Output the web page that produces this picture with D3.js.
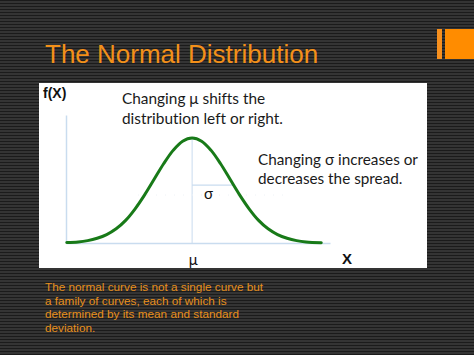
<!DOCTYPE html>
<html>
<head>
<meta charset="utf-8">
<script src="https://cdn.jsdelivr.net/npm/d3@7"></script>
<style>
  html, body { margin: 0; padding: 0; background: #2a2a2a; }
  svg { display: block; }
  text { font-variant-ligatures: none; }
</style>
</head>
<body>
<div id="slide"></div>
<script>
const WIDTH = 474;
const HEIGHT = 355;

// curve, x in sigma units, y as density
const zValues = [-3.3, -3.0, -2.75, -2.5, -2.25, -2.0, -1.75, -1.5, -1.25, -1.0, -0.75, -0.5, -0.25, 0,
  0.25, 0.5, 0.75, 1.0, 1.25, 1.5, 1.75, 2.0, 2.25, 2.5, 2.75, 3.0, 3.4];
const densities = [0.002, 0.004, 0.009, 0.018, 0.032, 0.054, 0.086, 0.130, 0.183, 0.242, 0.301, 0.352, 0.387, 0.399,
  0.387, 0.352, 0.301, 0.242, 0.183, 0.130, 0.086, 0.054, 0.032, 0.018, 0.009, 0.004, 0.001];
const sigmaMark = [0, 1.09];
const sigmaLevel = 0.22;

const titleText = "The Normal Distribution";
const noteLines = ["Changing \u03bc shifts the", "distribution left or right."];
const spreadLines = ["Changing \u03c3 increases or", "decreases the spread."];
const captionLines = [
  "The normal curve is not a single curve but",
  "a family of curves, each of which is",
  "determined by its mean and standard",
  "deviation."
];

const svg = d3
  .select("#slide")
  .append("svg")
  .attr("width", WIDTH)
  .attr("height", HEIGHT);

// striped dark background
const defs = svg.append("defs");
const stripes = defs
  .append("pattern")
  .attr("id", "stripes")
  .attr("width", 4)
  .attr("height", 3)
  .attr("patternUnits", "userSpaceOnUse");
stripes.append("rect").attr("width", 4).attr("height", 3).attr("fill", "#343434");
stripes.append("rect").attr("width", 4).attr("height", 1).attr("fill", "#1b1b1b");
svg.append("rect").attr("width", WIDTH).attr("height", HEIGHT).attr("fill", "url(#stripes)");

// orange corner marks
svg.append("rect").attr("x", 437).attr("y", 29).attr("width", 5).attr("height", 30).attr("fill", "#f7901e");
svg.append("rect").attr("x", 445).attr("y", 29).attr("width", 29).attr("height", 30).attr("fill", "#ff8c00");

svg
  .append("text")
  .attr("x", 45)
  .attr("y", 63)
  .attr("font-family", "Liberation Sans, Arial, sans-serif")
  .attr("font-size", "26px")
  .attr("fill", "#f39019")
  .text(titleText);

// white picture panel
svg.append("rect").attr("x", 39).attr("y", 83).attr("width", 388).attr("height", 185).attr("fill", "#ffffff");

const x = d3.scaleLinear().domain([-3.32, 3.63]).range([66, 330]);
const y = d3.scaleLinear().domain([0, 0.399]).range([243, 138]);

const axisColor = "#c9dcef";

const xAxis = svg
  .append("g")
  .attr("transform", `translate(0, ${y(0)})`)
  .call(d3.axisBottom(x).tickValues([]).tickSizeOuter(0));
xAxis.select(".domain").attr("stroke", axisColor).attr("stroke-width", 1.5);

const yAxis = svg
  .append("g")
  .attr("transform", `translate(${x(-3.32)}, 0)`)
  .call(d3.axisLeft(d3.scaleLinear().domain([0, 0.49]).range([243, 115])).tickValues([]).tickSizeOuter(0));
yAxis.select(".domain").attr("stroke", axisColor).attr("stroke-width", 1.5);

// mean line and sigma marker
svg
  .append("line")
  .attr("x1", x(0))
  .attr("x2", x(0))
  .attr("y1", y(0.399))
  .attr("y2", y(0))
  .attr("stroke", axisColor)
  .attr("stroke-width", 1);

svg
  .append("line")
  .attr("x1", x(sigmaMark[0]))
  .attr("x2", x(sigmaMark[1]))
  .attr("y1", y(sigmaLevel))
  .attr("y2", y(sigmaLevel))
  .attr("stroke", axisColor)
  .attr("stroke-width", 1.2);

svg
  .append("line")
  .attr("x1", 138)
  .attr("x2", 285)
  .attr("y1", 195)
  .attr("y2", 195)
  .attr("stroke", "#eef2f6")
  .attr("stroke-dasharray", "1 8");

const line = d3
  .line()
  .x((d, i) => x(zValues[i]))
  .y((d) => y(d))
  .curve(d3.curveCatmullRom);

svg
  .append("path")
  .attr("d", line(densities))
  .attr("fill", "none")
  .attr("stroke", "#187a18")
  .attr("stroke-width", 3)
  .attr("stroke-linecap", "round");

// labels in the panel
const panelFont = "Lato, 'Open Sans', sans-serif";

svg
  .append("text")
  .attr("x", 43)
  .attr("y", 98)
  .attr("font-family", "Liberation Sans, Arial, sans-serif")
  .attr("font-weight", "bold")
  .attr("font-size", "14px")
  .attr("fill", "#111")
  .text("f(X)");

svg
  .append("text")
  .attr("x", 342)
  .attr("y", 264)
  .attr("font-family", "Liberation Sans, Arial, sans-serif")
  .attr("font-weight", "bold")
  .attr("font-size", "15px")
  .attr("fill", "#111")
  .text("X");

svg
  .append("text")
  .attr("x", x(0) + 1)
  .attr("y", 265)
  .attr("text-anchor", "middle")
  .attr("font-family", panelFont)
  .attr("font-size", "15px")
  .attr("fill", "#111")
  .text("\u03bc");

svg
  .append("text")
  .attr("x", 204)
  .attr("y", 199)
  .attr("font-family", panelFont)
  .attr("font-size", "15px")
  .attr("fill", "#111")
  .text("\u03c3");

noteLines.forEach((t, i) => {
  svg
    .append("text")
    .attr("x", 122)
    .attr("y", 104 + i * 20)
    .attr("font-family", panelFont)
    .attr("font-size", "15.4px")
    .attr("fill", "#1a1a1a")
    .text(t);
});

spreadLines.forEach((t, i) => {
  svg
    .append("text")
    .attr("x", 258)
    .attr("y", 165 + i * 19)
    .attr("font-family", panelFont)
    .attr("font-size", "15.3px")
    .attr("fill", "#1a1a1a")
    .text(t);
});

captionLines.forEach((t, i) => {
  svg
    .append("text")
    .attr("x", 45)
    .attr("y", 291 + i * 13.5)
    .attr("font-family", "Liberation Sans, Arial, sans-serif")
    .attr("font-size", "11.75px")
    .attr("fill", "#e8901c")
    .text(t);
});
</script>
</body>
</html>
